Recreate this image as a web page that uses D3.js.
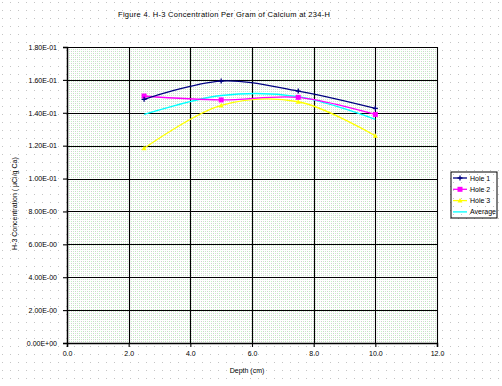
<!DOCTYPE html>
<html>
<head>
<meta charset="utf-8">
<script src="https://cdn.jsdelivr.net/npm/d3@7"></script>
<style>
  body { margin: 0; background: #fff; }
  text { font-family: "Liberation Sans", Arial, sans-serif; fill: #000; }
</style>
</head>
<body>
<div id="chart"></div>
<script>
// depth (cm) at each sample
const depths = [2.5, 5.0, 7.5, 10.0];
const hole1 = [0.1482, 0.1593, 0.1532, 0.1427];
const hole2 = [0.1502, 0.1478, 0.1494, 0.1390];
const hole3 = [0.1184, 0.1445, 0.1467, 0.1260];
const average = [0.1390, 0.1505, 0.1498, 0.1360];
const seriesNames = ['Hole 1', 'Hole 2', 'Hole 3', 'Average'];
const yTicks = [0, 0.02, 0.04, 0.06, 0.08, 0.10, 0.12, 0.14, 0.16, 0.18];
const yTickLabels = ['0.00E+00', '2.00E-00', '4.00E-00', '6.00E-00', '8.00E-00',
  '1.00E-01', '1.20E-01', '1.40E-01', '1.60E-01', '1.80E-01'];
const xTicks = [0, 2, 4, 6, 8, 10, 12];

const W = 502, H = 386;
const margin = {top: 47, right: 65, bottom: 43, left: 67},
  width = W - margin.left - margin.right,
  height = H - margin.top - margin.bottom;

const svg = d3.select('#chart').append('svg')
  .attr('width', W).attr('height', H);

const defs = svg.append('defs');
const bgPat = defs.append('pattern').attr('id', 'bgdots')
  .attr('patternUnits', 'userSpaceOnUse').attr('width', 8).attr('height', 8);
bgPat.append('rect').attr('width', 8).attr('height', 8).attr('fill', '#fff');
bgPat.append('rect').attr('x', 2).attr('y', 2).attr('width', 1).attr('height', 1).attr('fill', '#c4c4c4');

const plotPat = defs.append('pattern').attr('id', 'plotdots')
  .attr('patternUnits', 'userSpaceOnUse').attr('width', 4).attr('height', 4);
plotPat.append('rect').attr('width', 4).attr('height', 4).attr('fill', '#fff');
plotPat.append('rect').attr('x', 0).attr('y', 0).attr('width', 1).attr('height', 1).attr('fill', '#d0d0d0');
plotPat.append('rect').attr('x', 2).attr('y', 0).attr('width', 1).attr('height', 1).attr('fill', '#c6f2c6');
plotPat.append('rect').attr('x', 0).attr('y', 2).attr('width', 1).attr('height', 1).attr('fill', '#c6f2c6');
plotPat.append('rect').attr('x', 2).attr('y', 2).attr('width', 1).attr('height', 1).attr('fill', '#d0d0d0');

svg.append('rect').attr('width', W).attr('height', H).attr('fill', 'url(#bgdots)');

const g = svg.append('g')
  .attr('transform', 'translate(' + margin.left + ',' + margin.top + ')');

const x = d3.scaleLinear().domain([0, 12]).range([0, width]);
const y = d3.scaleLinear().domain([0, 0.18]).range([height, 0]);

g.append('rect').attr('width', width).attr('height', height).attr('fill', 'url(#plotdots)');

// gridlines
g.append('g').selectAll('line').data(yTicks.slice(1))
  .enter().append('line')
  .attr('x1', 0).attr('x2', width)
  .attr('y1', d => Math.round(y(d)) + 0.5).attr('y2', d => Math.round(y(d)) + 0.5)
  .attr('stroke', '#000').attr('stroke-width', 1.1);
g.append('g').selectAll('line').data(xTicks.slice(1))
  .enter().append('line')
  .attr('y1', 0).attr('y2', height)
  .attr('x1', d => Math.round(x(d)) + 0.5).attr('x2', d => Math.round(x(d)) + 0.5)
  .attr('stroke', '#000').attr('stroke-width', 1.1);

// axes
const yAxis = g.append('g')
  .call(d3.axisLeft(y).tickValues(yTicks).tickSize(4).tickPadding(6)
    .tickFormat((d, i) => yTickLabels[i]));
const xAxis = g.append('g')
  .attr('transform', 'translate(0,' + height + ')')
  .call(d3.axisBottom(x).tickValues(xTicks).tickSize(4).tickPadding(4)
    .tickFormat(d3.format('.1f')));
[yAxis, xAxis].forEach(a => {
  a.selectAll('path').attr('stroke', '#000').attr('stroke-width', 1.5);
  a.selectAll('line').attr('stroke', '#000').attr('stroke-width', 1.1);
  a.selectAll('text').style('font-size', '7px').attr('fill', '#000');
});

// series
const series = [
  {name: seriesNames[0], vals: hole1, color: '#000080', marker: 'plus'},
  {name: seriesNames[1], vals: hole2, color: '#ff00ff', marker: 'square'},
  {name: seriesNames[2], vals: hole3, color: '#ffff00', marker: 'triangle'},
  {name: seriesNames[3], vals: average, color: '#00ffff', marker: 'none'}
];

const line = d3.line()
  .x(d => x(d[0])).y(d => y(d[1]))
  .curve(d3.curveCatmullRom.alpha(0.5));

function drawMarker(sel, type, color) {
  if (type === 'square') {
    sel.append('rect').attr('x', -2.5).attr('y', -2.5).attr('width', 5).attr('height', 5).attr('fill', color);
  } else if (type === 'triangle') {
    sel.append('path').attr('d', 'M0,-2.5L2.5,2L-2.5,2Z').attr('fill', color);
  } else if (type === 'plus') {
    sel.append('path').attr('d', 'M0,-2.5V2.5M-2.5,0H2.5').attr('stroke', color).attr('stroke-width', 1.3);
  }
}

// draw in reverse so Hole 1 is on top
series.slice().reverse().forEach(s => {
  const pts = depths.map((dx, i) => [dx, s.vals[i]]);
  g.append('path').datum(pts)
    .attr('d', line).attr('fill', 'none')
    .attr('stroke', s.color).attr('stroke-width', 1.3);
  pts.forEach(p => {
    const m = g.append('g').attr('transform', 'translate(' + x(p[0]) + ',' + y(p[1]) + ')');
    drawMarker(m, s.marker, s.color);
  });
});

// legend
const lg = svg.append('g').attr('transform', 'translate(451,172)');
lg.append('rect').attr('width', 46).attr('height', 46)
  .attr('fill', 'url(#bgdots)').attr('stroke', '#000').attr('stroke-width', 1);
series.forEach((s, i) => {
  const row = lg.append('g').attr('transform', 'translate(0,' + (6 + i * 11.3) + ')');
  row.append('line').attr('x1', 2).attr('x2', 16).attr('y1', 0).attr('y2', 0)
    .attr('stroke', s.color).attr('stroke-width', 1.3);
  const m = row.append('g').attr('transform', 'translate(9,0)');
  drawMarker(m, s.marker, s.color);
  row.append('text').attr('x', 19).attr('y', 2.5).style('font-size', '7px').text(s.name);
});

// title and axis labels
svg.append('text').attr('x', 118).attr('y', 17).style('font-size', '7.5px')
  .style('letter-spacing', '0.3px')
  .text('Figure 4.  H-3 Concentration Per Gram of Calcium at 234-H');
svg.append('text').attr('x', 247).attr('y', 373).attr('text-anchor', 'middle')
  .style('font-size', '7px').text('Depth (cm)');
svg.append('text')
  .attr('transform', 'translate(17,250) rotate(-90)')
  .style('font-size', '7px')
  .text('H-3 Concentration (  \u00b5Ci/g Ca)');
</script>
</body>
</html>
